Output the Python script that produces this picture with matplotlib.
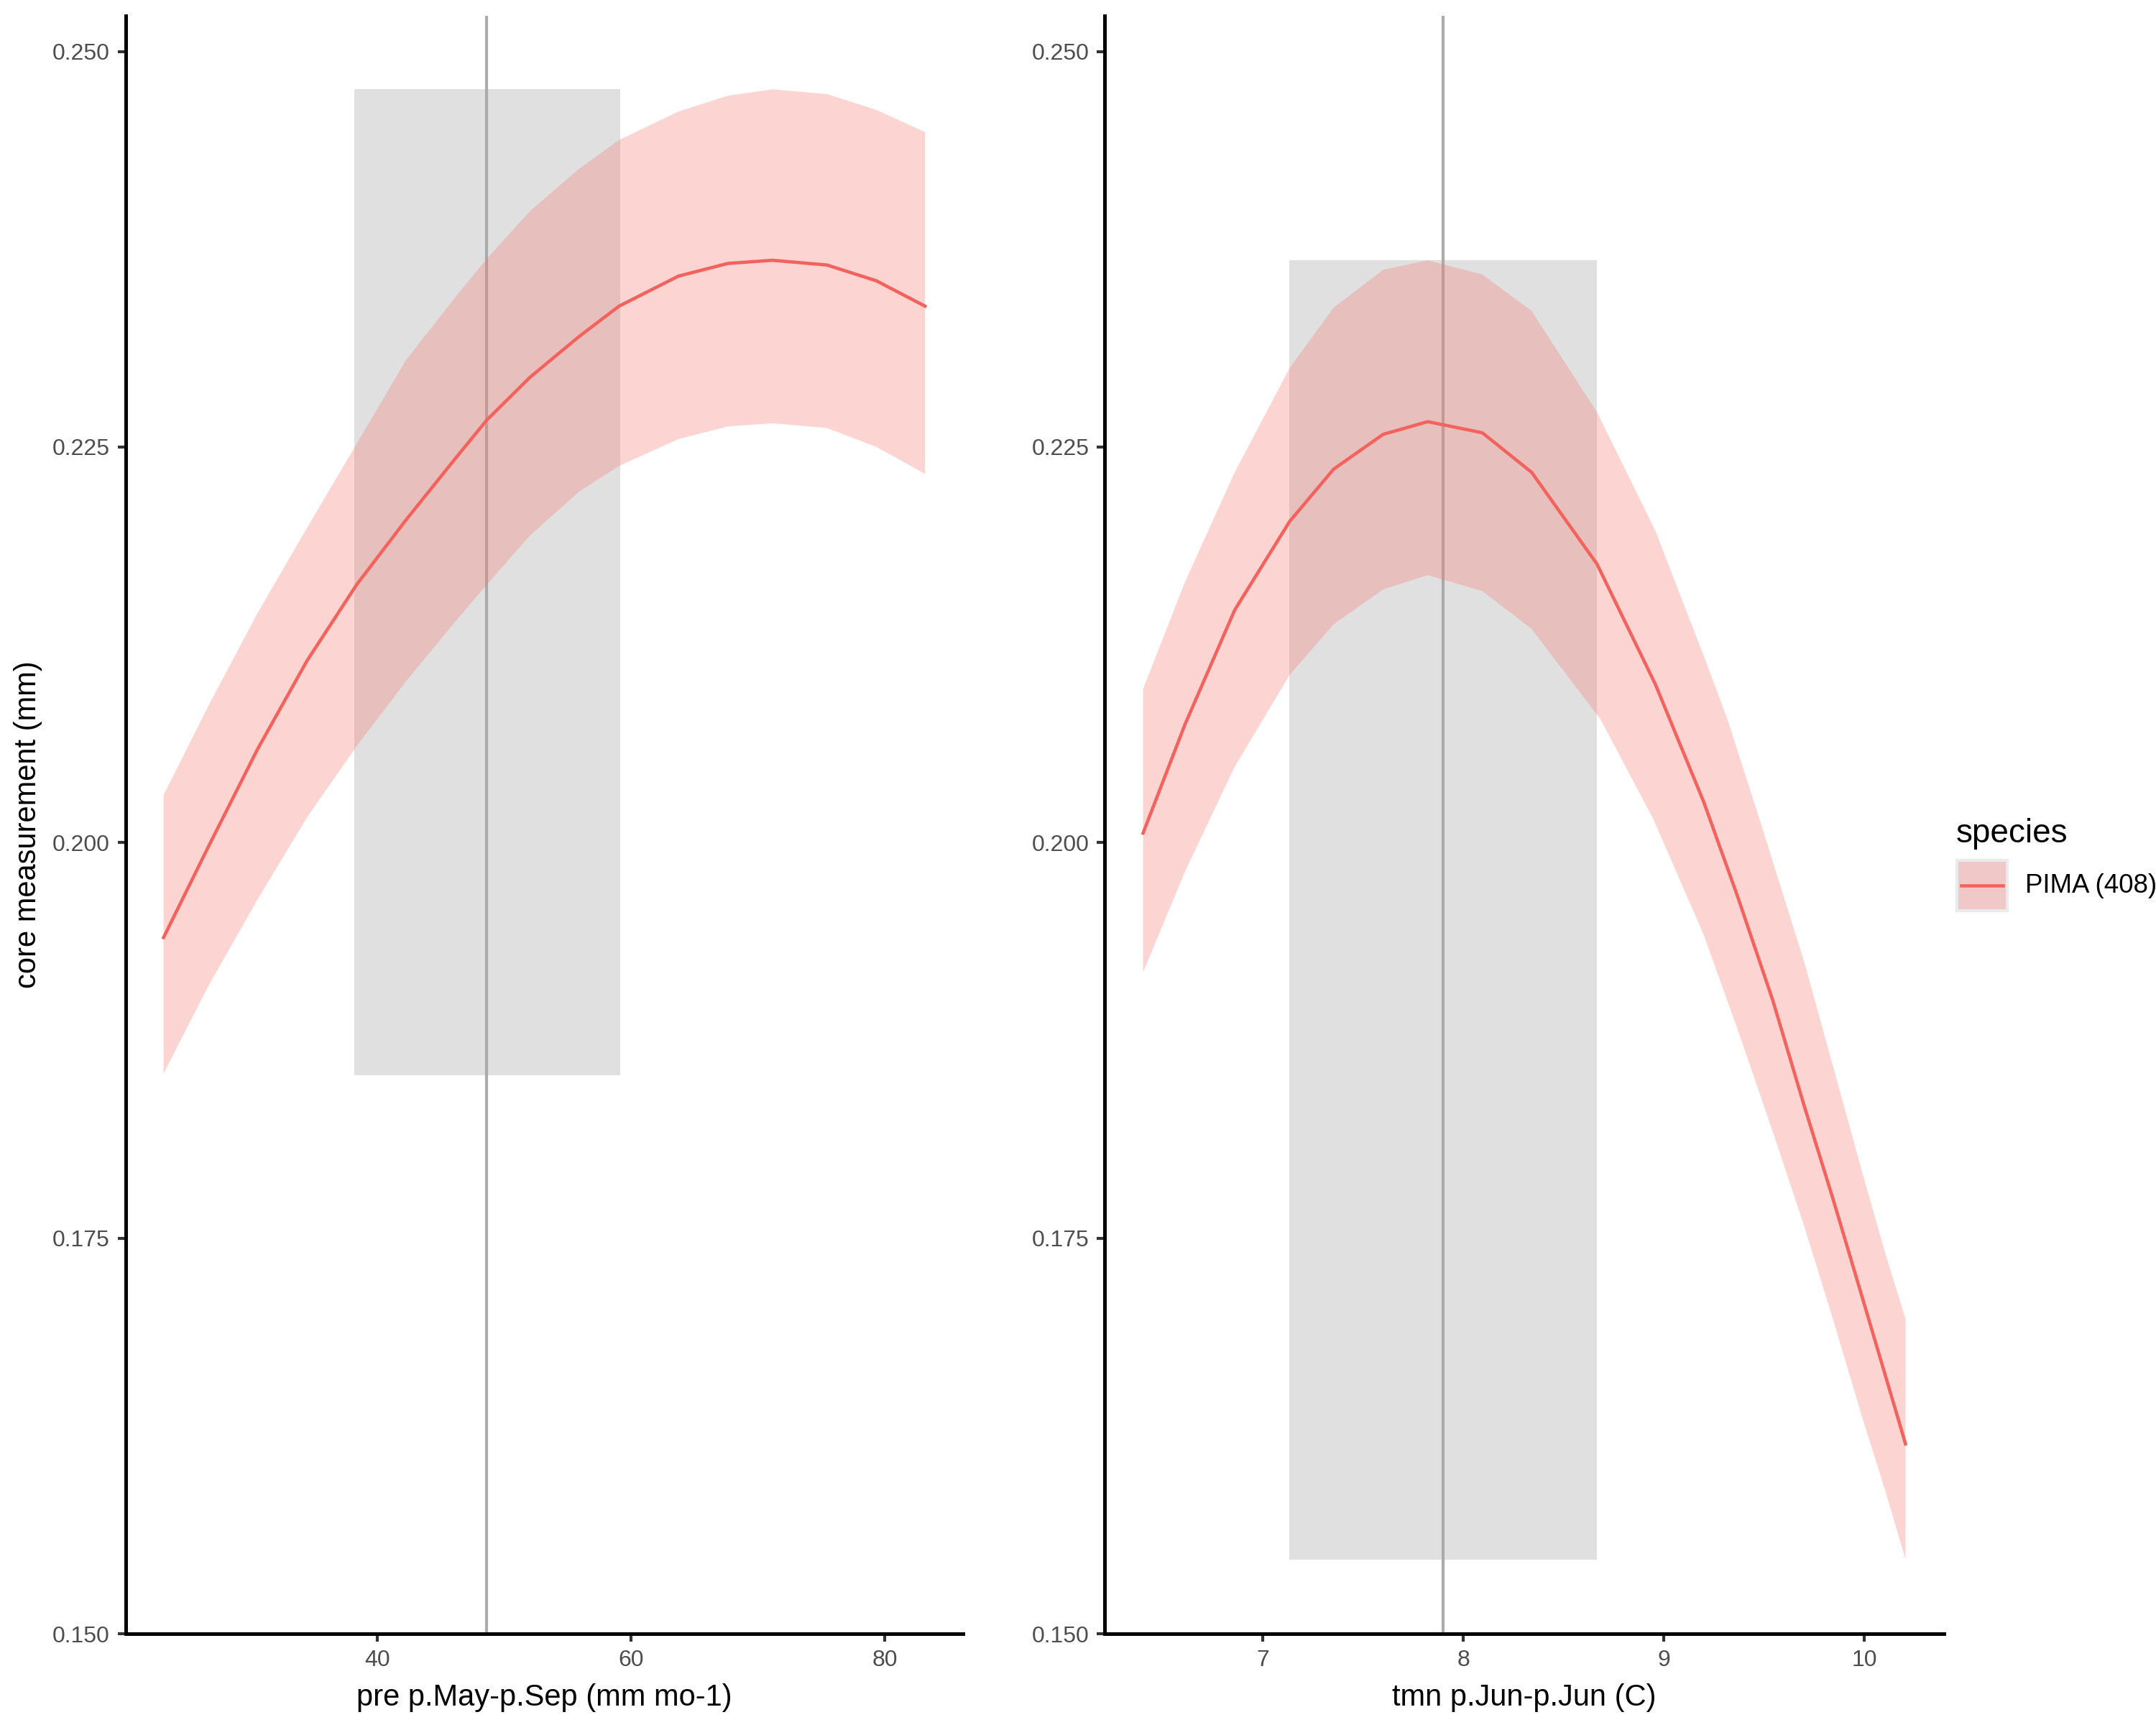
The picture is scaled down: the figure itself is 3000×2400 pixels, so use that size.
import matplotlib
matplotlib.use("Agg")
import matplotlib.pyplot as plt
from matplotlib.patches import Rectangle
from matplotlib.lines import Line2D

plt.rcParams['font.family'] = ['Liberation Sans', 'DejaVu Sans']

# ---------------- data ----------------
# left panel: precipitation
pre_x = [23.13, 26.64, 30.54, 34.45, 38.36, 42.26, 46.17, 48.62, 52.02, 55.93, 59.05,
         63.74, 67.64, 71.15, 75.45, 79.35, 83.18]
pre_fit = [0.1940, 0.1997, 0.2059, 0.2115, 0.2163, 0.2204, 0.2243, 0.2267, 0.2294, 0.2320, 0.2339,
           0.2358, 0.2366, 0.2368, 0.2365, 0.2355, 0.2339]
pre_upper = [0.2030, 0.2086, 0.2145, 0.2199, 0.2252, 0.2305, 0.2345, 0.2369, 0.2399, 0.2426, 0.2444,
             0.2462, 0.2472, 0.2476, 0.2473, 0.2463, 0.2449]
pre_lower = [0.1854, 0.1909, 0.1964, 0.2016, 0.2061, 0.2102, 0.2140, 0.2163, 0.2194, 0.2222, 0.2238,
             0.2255, 0.2263, 0.2265, 0.2262, 0.2250, 0.2233]
pre_rect = [38.16, 59.14, 0.1853, 0.2476]   # xmin, xmax, ymin, ymax
pre_vline = 48.6

# right panel: minimum temperature
tmn_x = [6.404, 6.614, 6.861, 7.135, 7.354, 7.601, 7.823, 8.095, 8.341, 8.667, 8.958,
         9.198, 9.365, 9.544, 9.699, 9.843, 9.986, 10.105, 10.205]
tmn_fit = [0.2006, 0.2075, 0.2147, 0.2203, 0.2236, 0.2258, 0.2266, 0.2259, 0.2234, 0.2176, 0.2100,
           0.2026, 0.1967, 0.1900, 0.1834, 0.1775, 0.1714, 0.1663, 0.1620]
tmn_upper_x = [6.404, 6.614, 6.861, 7.135, 7.354, 7.601, 7.823, 8.095, 8.341, 8.667, 8.958,
               9.205, 9.317, 9.484, 9.699, 9.843, 9.986, 10.105, 10.205]
tmn_upper = [0.2097, 0.2165, 0.2234, 0.2300, 0.2338, 0.2362, 0.2368, 0.2359, 0.2336, 0.2272, 0.2197,
             0.2116, 0.2078, 0.2012, 0.1925, 0.1859, 0.1793, 0.1740, 0.1699]
tmn_lower_x = [6.404, 6.614, 6.861, 7.135, 7.354, 7.601, 7.823, 8.095, 8.341, 8.684, 8.947,
               9.198, 9.365, 9.544, 9.699, 9.843, 9.986, 10.105, 10.205]
tmn_lower = [0.1918, 0.1982, 0.2048, 0.2106, 0.2138, 0.2160, 0.2169, 0.2159, 0.2135, 0.2078, 0.2015,
             0.1942, 0.1883, 0.1817, 0.1758, 0.1699, 0.1638, 0.1590, 0.1547]
tmn_rect = [7.134, 8.666, 0.1547, 0.2368]
tmn_vline = 7.90

y_ticks = [0.150, 0.175, 0.200, 0.225, 0.250]
y_tick_labels = ["0.150", "0.175", "0.200", "0.225", "0.250"]
pre_ticks = [40, 60, 80]
tmn_ticks = [7, 8, 9, 10]

x_labels = ["pre p.May-p.Sep (mm mo-1)", "tmn p.Jun-p.Jun (C)"]
y_label = "core measurement (mm)"
legend_title = "species"
legend_label = "PIMA (408)"

RED = "#F8766D"
LINE_RED = "#F4625D"
RECT_GREY = "#E0E0E0"
VLINE_GREY = "#ABABAB"

fig = plt.figure(figsize=(10, 8), dpi=300)
ax1 = fig.add_axes([0.0582, 0.0529, 0.4467 - 0.0582, 0.9908 - 0.0529])
ax2 = fig.add_axes([0.5125, 0.0529, 0.9015 - 0.5125, 0.9908 - 0.0529])


def expand(lo, hi, f=0.05):
    r = hi - lo
    return lo - f * r, hi + f * r


panels = [
    (ax1, pre_x, pre_fit, pre_x, pre_upper, pre_x, pre_lower, pre_rect, pre_vline, pre_ticks, x_labels[0]),
    (ax2, tmn_x, tmn_fit, tmn_upper_x, tmn_upper, tmn_lower_x, tmn_lower, tmn_rect, tmn_vline, tmn_ticks,
     x_labels[1]),
]

all_y = pre_upper + pre_lower + tmn_upper + tmn_lower + pre_rect[2:] + tmn_rect[2:]
ylims = expand(min(all_y), max(all_y))

for ax, x, fit, ux, up, lx, lo, rect, vl, ticks, xl in panels:
    ax.add_patch(Rectangle((rect[0], rect[2]), rect[1] - rect[0], rect[3] - rect[2],
                           facecolor=RECT_GREY, edgecolor='none', zorder=1))
    ax.axvline(vl, color=VLINE_GREY, lw=1.0, zorder=2)
    poly_x = list(ux) + list(lx)[::-1]
    poly_y = list(up) + list(lo)[::-1]
    ax.fill(poly_x, poly_y, color=RED, alpha=0.3, linewidth=0, zorder=3)
    ax.plot(x, fit, color=LINE_RED, lw=1.1, zorder=4, solid_joinstyle='round')
    ax.set_xlim(*expand(min(x), max(x)))
    ax.set_ylim(*ylims)
    ax.set_xticks(ticks)
    ax.set_xticklabels([str(t) for t in ticks])
    ax.set_yticks(y_ticks)
    ax.set_yticklabels(y_tick_labels)
    for s in ['top', 'right']:
        ax.spines[s].set_visible(False)
    for s in ['left', 'bottom']:
        ax.spines[s].set_linewidth(1.2)
        ax.spines[s].set_color('black')
    ax.tick_params(axis='both', length=2.7, width=1.0, color='#333333',
                   labelcolor='#4D4D4D', labelsize=7.7, pad=2.6)
    ax.set_xlabel(xl, fontsize=10, color='black', labelpad=4)

ax1.set_ylabel(y_label, fontsize=10, color='black', labelpad=3.3)

# legend drawn manually in figure coordinates
W, H = 3000.0, 2400.0
fig.text(2722 / W, 1 - 1160 / H, legend_title, fontsize=11, ha='left', va='center', color='black')
fig.add_artist(Rectangle((2723 / W, 1 - 1267 / H), 70 / W, 70 / H, transform=fig.transFigure,
                         facecolor='#F0C8C7', edgecolor='#EBEBEB', linewidth=1.0))
fig.add_artist(Line2D([2729 / W, 2787 / W], [1 - 1232 / H, 1 - 1232 / H], transform=fig.transFigure,
                      color=LINE_RED, lw=1.1))
fig.text(2818 / W, 1 - 1233 / H, legend_label, fontsize=8.8, ha='left', va='center', color='black')

fig.savefig("out.png", dpi=300)
